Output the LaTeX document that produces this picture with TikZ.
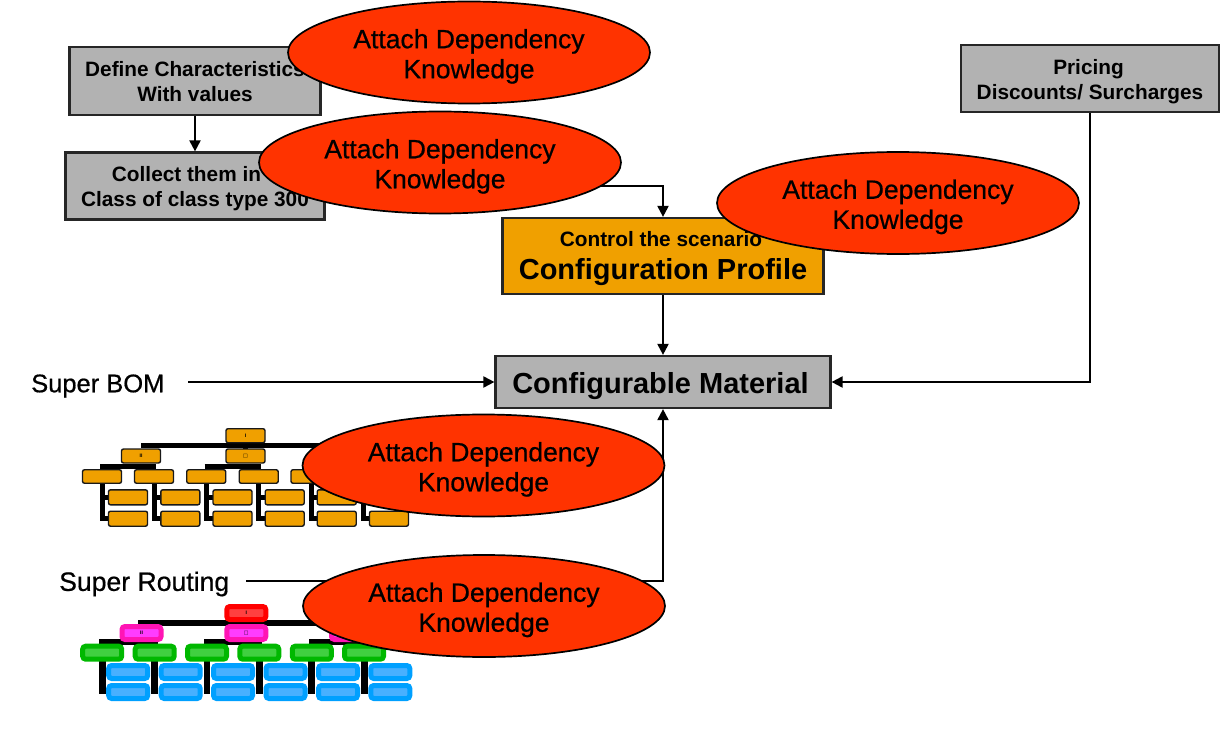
\documentclass[tikz,border=0pt]{standalone}
\usepackage{fontspec}
\setmainfont{Liberation Sans}
\newfontfamily\fakebold[FakeBold=0.6]{Liberation Sans}
\usetikzlibrary{arrows.meta,shapes.geometric}
\definecolor{graybox}{HTML}{B2B2B2}
\definecolor{orangebox}{HTML}{F0A000}
\definecolor{redell}{HTML}{FF3300}
\newcommand{\fsz}[1]{\fontsize{#1}{25}\selectfont}
\newcommand{\dn}[1]{\rule{0pt}{#1pt}}
\tikzset{
  graynode/.style={draw=black!85,line width=2.2pt,fill=graybox,inner sep=0pt,align=center,font=\fsz{20.8}\bfseries},
  dep/.style={ellipse,draw=black,line width=1.7pt,fill=redell,minimum width=362pt,minimum height=102pt,inner sep=0pt,align=center,font=\fakebold\fsz{26.5}},
  link/.style={draw=black,line width=2pt,-{Triangle[length=11pt,width=11pt]}},
  plainlab/.style={inner sep=0pt},
  bomline/.style={draw=black,line width=5pt},
  obox/.style={draw=black!90,line width=1.4pt,fill=orangebox,rounded corners=2pt,minimum width=39pt,inner sep=0pt,font=\fontsize{5}{5}\selectfont\bfseries},
  rbox/.style={line width=5pt,rounded corners=3pt,minimum width=39pt,minimum height=13pt,inner sep=0pt,font=\fontsize{5}{5}\selectfont\bfseries},
  rred/.style={rbox,draw=red,fill=red!75!white},
  rmag/.style={rbox,draw={rgb,255:red,255;green,20;blue,180},fill={rgb,255:red,255;green,60;blue,255}},
  rgreen/.style={rbox,draw={rgb,255:red,0;green,184;blue,0},fill={rgb,255:red,64;green,208;blue,64}},
  rblue/.style={rbox,draw={rgb,255:red,0;green,160;blue,255},fill={rgb,255:red,72;green,176;blue,255}},
}
\begin{document}
\begin{tikzpicture}[x=1pt,y=-1pt]
\useasboundingbox (0,0) rectangle (1221,741);
% grey and orange boxes
\node[graynode,minimum width=251pt,minimum height=68pt] (define) at (195,81) {\dn{17}Define Characteristics\\With values};
\node[graynode,minimum width=259pt,minimum height=67pt] (collect) at (195,186) {\dn{21}Collect them in\hspace*{17pt}\\Class of class type 300};
\node[graynode,minimum width=258pt,minimum height=67pt] (pricing) at (1090,78.5) {\dn{21}Pricing\hspace*{3pt}\\Discounts/ Surcharges};
\node[draw=black!85,line width=2.2pt,fill=orangebox,inner sep=0pt,align=center,minimum width=321pt,minimum height=76pt] (profile) at (663,256)
  {\fsz{20.8}\bfseries\dn{20}Control the scenario\hspace*{4pt}\\[10pt]\fsz{29}\bfseries Configuration Profile};
\node[graynode,minimum width=335pt,minimum height=52pt,font=\fsz{29}\bfseries] (material) at (663,382) {\kern-5pt\dn{29}Configurable Material};
% labels
\node[plainlab,anchor=west,font=\fakebold\fsz{25.5}] (bom) at (31,386) {Super BOM};
\node[plainlab,anchor=west,font=\fakebold\fsz{26.6}] (routing) at (59,584) {Super Routing};
\coordinate (bomstart) at (188,382);
\coordinate (routstart) at (246,581);
\coordinate (routbend) at (663,581);
% connectors
\draw[link] (define.south) -- (collect.north);
\draw[link] (collect.east) -- (profile.north |- collect.east) -- (profile.north);
\draw[link] (profile.south) -- (material.north);
\draw[link] (pricing.south) |- (material.east);
\draw[link] (bomstart) -- (bomstart -| material.west);
\draw[link] (routstart) -- (routbend) -- (material.south);
% Super BOM chart
\draw[bomline] (141,445.8) -- (350,445.8);
\draw[bomline] (245.5,440) -- (245.5,450);
\draw[bomline] (100,466.8) -- (156,466.8) (204.5,466.8) -- (260.5,466.8) (309,466.8) -- (365,466.8);
\foreach \x/\y in {102/128,154.5/180.3,206.5/232.5,258.5/284.7,311/336.7,363/389}{
  \draw[bomline] (\x,476) -- (\x,518.7) -- (\y,518.7);
  \draw[bomline] (\x,497.3) -- (\y,497.3);
}
\node[obox,minimum height=14pt] (o1) at (245.5,435.7) {I};
\foreach \n/\x/\t in {a/141/II,b/245.5/\fontspec{DejaVu Sans}□,c/350/}
  \node[obox,minimum height=14pt] (o2\n) at (\x,456) {\t};
\foreach \n/\x in {a/102,b/154,c/206.2,d/258.7,e/310.5,f/362.5}
  \node[obox,minimum height=13.5pt] (o3\n) at (\x,476.5) {};
\foreach \n/\x in {a/128,b/180.3,c/232.5,d/284.7,e/336.7,f/389}{
  \node[obox,minimum height=15pt] (o4\n) at (\x,497.3) {};
  \node[obox,minimum height=15pt] (o5\n) at (\x,518.7) {};
}
% Super Routing chart
\draw[draw=black,line width=6pt] (138,623) -- (355,623);
\draw[draw=black,line width=6pt] (99,642) -- (158,642) (204,642) -- (262,642) (309,642) -- (365,642);
\foreach \x in {102.5,154.5,207,259.5,311.5,364.5}
  \draw[draw=black,line width=6.4pt] (\x,655) -- (\x,694);
\node[rred] (r1) at (246.3,613) {I};
\node[rmag] (r2a) at (141.5,633) {II};
\node[rmag] (r2b) at (246.3,633) {\fontspec{DejaVu Sans}□};
\node[rmag] (r2c) at (351,633) {};
\foreach \n/\x in {a/102.2,b/154.7,c/207,d/259.3,e/311.8,f/364}
  \node[rgreen] (r3\n) at (\x,652.7) {};
\foreach \n/\x in {a/128.2,b/180.7,c/233,d/285.5,e/338,f/390.3}{
  \node[rblue] (r4\n) at (\x,672) {};
  \node[rblue] (r5\n) at (\x,692) {};
}
% dependency ellipses
\node[dep] (d1) at (469,52.5) {\dn{27}Attach Dependency\\[5pt]Knowledge};
\node[dep] (d2) at (440,162.5) {\dn{27}Attach Dependency\\[5pt]Knowledge};
\node[dep] (d3) at (898,203) {\dn{27}Attach Dependency\\[5pt]Knowledge};
\node[dep] (d4) at (483.5,465.5) {\dn{27}Attach Dependency\\[5pt]Knowledge};
\node[dep] (d5) at (484,606) {\dn{27}Attach Dependency\\[5pt]Knowledge};
\end{tikzpicture}
\end{document}
